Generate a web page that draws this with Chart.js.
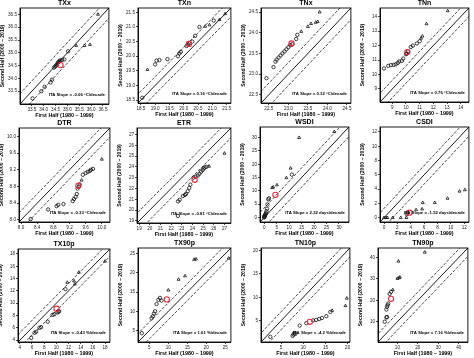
<!DOCTYPE html>
<html><head><meta charset="utf-8">
<script src="https://cdn.jsdelivr.net/npm/chart.js@4/dist/chart.umd.min.js"></script>
<style>
html,body{margin:0;padding:0;background:#fff;}
body{width:474px;height:358px;overflow:hidden;position:relative;}
canvas{position:absolute;}
</style></head><body>
<script>
// ---------- data ----------
const titles = ['TXx','TXn','TNx','TNn','DTR','ETR','WSDI','CSDI','TX10p','TX90p','TN10p','TN90p'];
const slopeTexts = [
 'ITA Slope = -0.06 °C/decade','ITA Slope = 0.16 °C/decade','ITA Slope = 0.32 °C/decade','ITA Slope = 0.76 °C/decade',
 'ITA Slope = -0.33 °C/decade','ITA Slope = -0.81 °C/decade','ITA Slope = 2.22 days/decade','ITA Slope = -1.52 days/decade',
 'ITA Slope = -0.43 %/decade','ITA Slope = 1.61 %/decade','ITA Slope = -4.2 %/decade','ITA Slope = 7.16 %/decade'];
const xTitle = 'First Half (1980 – 1999)';
const yTitle = 'Second Half (2000 – 2019)';

const axisMin = [33.0, 18.4, 22.3, 8.1, 7.95, 18.8, -1.7, -0.6, 3.7, 2.0, 0.5, 0.5];
const axisMax = [36.75, 21.65, 24.6, 14.6, 10.2, 27.6, 34.0, 12.7, 18.8, 26.5, 20.5, 44.5];
const bandWidth = [0.4, 0.3, 0.28, 0.6, 0.22, 0.9, 3.6, 1.3, 1.2, 2.2, 1.9, 3.9];

const txxTicks = [33.5,34.0,34.5,35.0,35.5,36.0,36.5];
const txnTicks = [18.5,19.0,19.5,20.0,20.5,21.0,21.5];
const tnxTicks = [22.5,23.0,23.5,24.0,24.5];
const tnnTicks = [9,10,11,12,13,14];
const dtrTicks = [8.0,8.4,8.8,9.2,9.6,10.0];
const etrTicks = [19,20,21,22,23,24,25,26,27];
const wsdiTicks = [0,5,10,15,20,25,30];
const csdiTicks = [0,2,4,6,8,10,12];
const tx10pTicks = [4,6,8,10,12,14,16,18];
const tx90pTicks = [5,10,15,20,25];
const tn10pTicks = [5,10,15,20];
const tn90pTicks = [10,20,30,40];

const txxFirst  = [33.53,33.9,34.04,34.29,34.35,34.43,34.48,34.52,34.56,34.6,34.63,34.66,34.7,34.78,34.87,35.03,35.37,35.72,35.95,36.29];
const txxSecond = [33.22,33.5,33.67,33.84,33.95,34.42,34.46,34.5,34.55,34.61,34.64,34.68,34.7,34.72,34.74,35.06,35.28,35.28,35.32,36.5];
const txxShape  = 'cccccccccccccccctttt';
const txxMean   = [34.71,34.52];

const txnFirst  = [18.55,18.73,19.0,19.05,19.15,19.43,19.8,19.85,19.9,20.1,20.15,20.2,20.3,20.4,20.55,20.75,20.9,21.05,21.25,21.45];
const txnSecond = [18.58,19.54,19.72,19.85,19.87,19.9,20.0,20.1,20.15,20.35,20.4,20.45,20.5,20.7,21.0,21.02,21.07,21.22,21.25,21.45];
const txnShape  = 'ctcccccccccccccttctt';
const txnMean   = [20.18,20.42];

const tnxFirst  = [22.44,22.62,22.67,22.7,22.75,22.8,22.85,22.9,22.95,23.0,23.05,23.1,23.2,23.23,23.33,23.5,23.58,23.7,23.75,23.8];
const tnxSecond = [22.9,23.17,23.3,23.35,23.4,23.45,23.5,23.55,23.6,23.65,23.7,23.72,23.85,23.95,24.03,24.15,24.22,24.25,24.27,24.5];
const tnxShape  = 'cccccccccccccctttttt';
const tnxMean   = [23.08,23.74];

const tnnFirst  = [8.39,8.7,8.9,9.1,9.25,9.4,9.5,9.7,9.8,10.0,10.05,10.15,10.35,10.5,10.8,11.0,11.1,11.2,11.5,13.05];
const tnnSecond = [10.42,10.6,10.65,10.67,10.7,10.8,10.9,10.95,11.1,11.4,11.45,11.6,11.9,12.0,12.15,12.3,12.5,12.65,13.5,14.4];
const tnnShape  = 'cccccccccccccccctttt';
const tnnMean   = [10.1,11.55];

const dtrFirst  = [8.24,8.67,8.88,8.92,9.05,9.28,9.31,9.35,9.38,9.4,9.43,9.45,9.5,9.53,9.6,9.65,9.7,9.73,9.78,10.0];
const dtrSecond = [8.02,8.25,8.33,8.36,8.38,8.45,8.5,8.55,8.62,8.75,8.8,8.85,8.95,9.08,9.12,9.15,9.17,9.2,9.22,9.45];
const dtrShape  = 'cccccccccccctcccccct';
const dtrMean   = [9.42,8.82];

const etrFirst  = [22.63,22.65,22.8,23.1,23.3,23.4,23.55,23.7,23.8,24.1,24.3,24.5,24.65,24.8,24.95,25.05,25.15,25.3,25.55,27.0];
const etrSecond = [19.45,20.8,20.95,21.3,21.4,21.5,21.75,22.05,22.35,23.0,23.1,23.2,23.35,23.55,23.7,23.85,23.95,24.0,24.05,25.25];
const etrShape  = 'cccccccccccccccccctt';
const etrMean   = [24.2,22.8];

const wsdiFirst  = [0,0,0.1,0.2,0.3,0.5,0.7,0.9,1.1,1.3,1.6,1.9,3.2,3.6,5.1,8.9,10.6,11.1,14.0,28.1];
const wsdiSecond = [0,0.2,0.4,0.6,0.9,1.2,1.6,2.3,3.3,4.9,6.8,7.2,11.2,11.4,12.2,14.9,18.5,16.1,30.0,32.2];
const wsdiShape  = 'cccccccccccctttttctt';
const wsdiMean   = [4.5,8.5];

const csdiFirst  = [0,0.3,0.5,1.3,2.5,3.35,3.4,3.5,4.8,5.7,5.8,7.6,9.5,11.3,12.1];
const csdiSecond = [0,0,0,0,0,0,0.5,0.7,1.1,1.2,2.1,2.1,2.7,3.7,3.9];
const csdiShape  = 'ttttttcctttttttt';
const csdiMean   = [3.8,0.7];

const tx10pFirst  = [5.88,6.42,6.69,7.23,7.5,8.58,9.38,9.65,10.2,10.35,10.45,11.5,11.8,12.9,13.05,13.7,18.0];
const tx10pSecond = [4.38,5.2,5.36,6.0,6.1,7.0,8.1,8.2,8.5,8.6,8.7,12.28,13.37,13.6,13.1,15.0,16.8];
const tx10pShape  = 'cccccccccccctttttt';
const tx10pMean   = [10.03,9.1];

const tx90pFirst  = [3.0,5.6,5.9,6.2,6.5,6.9,7.4,7.8,8.2,10.0,12.7,14.4,16.8,17.3,25.9];
const tx90pSecond = [4.3,8.2,8.7,9.4,10.0,11.9,13.0,13.5,12.8,15.5,18.3,19.2,23.5,23.6,23.8];
const tx90pShape  = 'ccccccccctttttt';
const tx90pMean   = [9.6,13.1];

const tn10pFirst  = [2.6,7.6,7.8,8.0,8.2,9.2,10.7,12.2,12.9,13.6,14.2,15.2,16.1,16.5,19.5,19.8];
const tn10pSecond = [1.6,1.8,2.1,2.4,2.2,4.0,4.5,5.1,5.2,5.4,5.6,6.0,6.9,7.2,8.2,9.8];
const tn10pShape  = 'cccccccccccccttt';
const tn10pMean   = [11.5,4.8];

const tn90pFirst  = [3.8,4.6,4.9,4.6,4.9,5.2,5.5,6.2,6.9,7.7,10.0,10.8,11.2,10.5,23.4];
const tn90pSecond = [10.0,12.0,12.2,15.7,17.0,17.7,18.5,23.0,24.0,24.9,30.2,30.5,30.8,38.3,42.5];
const tn90pShape  = 'ccccccccctttttt';
const tn90pMean   = [6.9,20.7];

// ---------- layout (plot-area boxes in page pixels: left, top, right, bottom) ----------
const boxes = [
 [20,8,111,104],[138,8,233,103],[261,8,353,103],[380,8,471,102],
 [19,128,112,222],[137,128,233,223],[260,127,351,222],[380,127,471,222],
 [18,249,112,342],[138,248,233,342],[261,248,352,342],[378,248,470,342]];

const panelData = [
 [txxFirst,txxSecond,txxShape,txxMean,txxTicks,1],
 [txnFirst,txnSecond,txnShape,txnMean,txnTicks,1],
 [tnxFirst,tnxSecond,tnxShape,tnxMean,tnxTicks,1],
 [tnnFirst,tnnSecond,tnnShape,tnnMean,tnnTicks,0],
 [dtrFirst,dtrSecond,dtrShape,dtrMean,dtrTicks,1],
 [etrFirst,etrSecond,etrShape,etrMean,etrTicks,0],
 [wsdiFirst,wsdiSecond,wsdiShape,wsdiMean,wsdiTicks,0],
 [csdiFirst,csdiSecond,csdiShape,csdiMean,csdiTicks,0],
 [tx10pFirst,tx10pSecond,tx10pShape,tx10pMean,tx10pTicks,0],
 [tx90pFirst,tx90pSecond,tx90pShape,tx90pMean,tx90pTicks,0],
 [tn10pFirst,tn10pSecond,tn10pShape,tn10pMean,tn10pTicks,0],
 [tn90pFirst,tn90pSecond,tn90pShape,tn90pMean,tn90pTicks,0]];

const FONT = "'Liberation Sans', Arial, Helvetica, sans-serif";
const YW = 20, TOPPAD = 10, XH = 15, RP = 3;

const decoPlugin = {
  id: 'deco',
  afterDraw(chart, args, opts) {
    const ctx = chart.ctx, a = chart.chartArea;
    ctx.save();
    ctx.strokeStyle = '#000'; ctx.lineWidth = 0.9;
    ctx.strokeRect(a.left, a.top, a.right - a.left, a.bottom - a.top);
    ctx.fillStyle = '#000';
    ctx.font = 'bold 7px ' + FONT;
    ctx.textAlign = 'center'; ctx.textBaseline = 'middle';
    ctx.fillText(opts.title, (a.left + a.right) / 2, a.top - 4.5);
    ctx.font = 'bold 4.3px ' + FONT;
    ctx.textAlign = 'right';
    ctx.fillText(opts.slope, a.right - 4, a.bottom - 9);
    ctx.restore();
  }
};

panelData.forEach((pd, i) => {
  const [fx, sy, shp, mean, ticks, dec] = pd;
  const [L, T, R, B] = boxes[i];
  const cv = document.createElement('canvas');
  const w = (R - L) + YW + RP, h = (B - T) + TOPPAD + XH;
  cv.width = w; cv.height = h;
  cv.style.left = (L - YW) + 'px'; cv.style.top = (T - TOPPAD) + 'px';
  cv.style.width = w + 'px'; cv.style.height = h + 'px';
  document.body.appendChild(cv);
  const lo = axisMin[i], hi = axisMax[i], d = bandWidth[i];
  const pts = fx.map((x, k) => ({x: x, y: sy[k]}));
  const styles = fx.map((x, k) => shp[k] === 't' ? 'triangle' : 'circle');
  const lineDs = (pts, dash, lw) => ({type: 'line', data: pts, borderColor: '#000', borderWidth: lw,
      borderDash: dash, pointRadius: 0, fill: false, order: 5});
  const ext = (hi - lo);
  const tickVals = ticks;
  const scaleCommon = (isX) => ({
    type: 'linear', min: lo, max: hi,
    afterBuildTicks: s => { s.ticks = tickVals.map(v => ({value: v})); },
    afterFit: s => {
      if (isX) s.height = XH; else s.width = YW;
      s.paddingLeft = 0; s.paddingRight = 0; s.paddingTop = 0; s.paddingBottom = 0;
    },
    grid: {display: true, drawOnChartArea: false, drawTicks: true, tickLength: 2, tickColor: '#000', tickWidth: 0.7},
    border: {display: true, color: '#000', width: 0.9},
    ticks: {font: {size: 4.6, family: FONT}, color: '#222', padding: 1, maxRotation: 0, autoSkip: false,
      callback: v => Number(v).toFixed(dec)},
    title: {display: true, text: isX ? xTitle : yTitle, font: {size: isX ? 5.4 : 5.1, weight: 'bold', family: FONT},
      color: '#000', padding: {top: 0, bottom: 0}}
  });
  new Chart(cv, {
    type: 'scatter',
    data: {datasets: [
      lineDs([{x: lo - ext, y: lo - ext}, {x: hi + ext, y: hi + ext}], [], 0.9),
      lineDs([{x: lo - ext, y: lo - ext + d}, {x: hi + ext, y: hi + ext + d}], [3, 1.5], 0.7),
      lineDs([{x: lo - ext, y: lo - ext - d}, {x: hi + ext, y: hi + ext - d}], [3, 1.5], 0.7),
      {data: pts, pointStyle: styles, pointRadius: 1.7, borderWidth: 0.8, borderColor: '#111',
       backgroundColor: 'rgba(0,0,0,0)', order: 2},
      {data: [{x: mean[0], y: mean[1]}], pointStyle: 'circle', pointRadius: 2.6, borderWidth: 1.1,
       borderColor: '#e8283c', backgroundColor: 'rgba(0,0,0,0)', order: 1}
    ]},
    options: {
      responsive: false, animation: false, devicePixelRatio: 1,
      layout: {padding: {top: TOPPAD, right: RP, left: 0, bottom: 0}},
      plugins: {legend: {display: false}, tooltip: {enabled: false},
        deco: {title: titles[i], slope: slopeTexts[i]}},
      scales: {x: scaleCommon(true), y: scaleCommon(false)}
    },
    plugins: [decoPlugin]
  });
});
</script>
</body></html>
